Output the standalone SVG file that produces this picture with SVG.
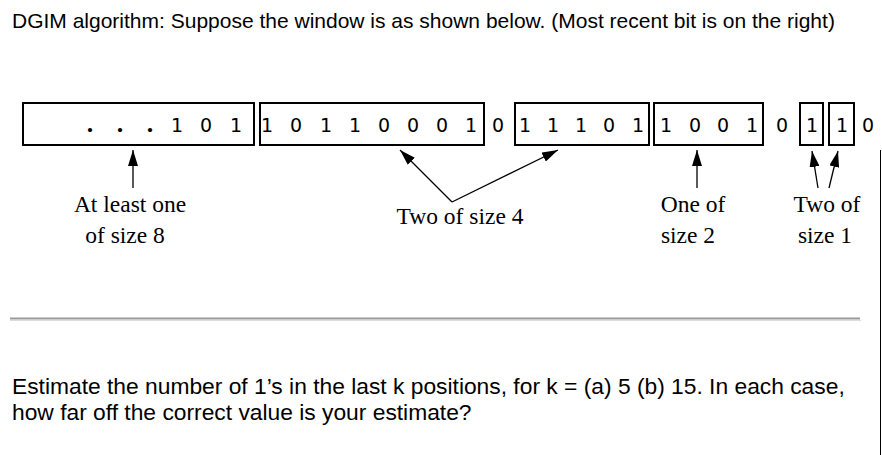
<svg xmlns="http://www.w3.org/2000/svg" width="882" height="455" viewBox="0 0 882 455">
<style>
.hdr{font-family:"Liberation Sans",Arial,sans-serif;fill:#000}
.bit{font-family:"DejaVu Sans","Liberation Sans",sans-serif;font-size:19px;fill:#000;text-anchor:middle}
.dot{font-family:"Liberation Serif","Times New Roman",serif;font-size:26px;font-weight:bold;fill:#000;text-anchor:middle}
.lbl{font-family:"Liberation Serif","Times New Roman",serif;font-size:23.5px;fill:#000;text-anchor:middle}
.box{fill:none;stroke:#000;stroke-width:2}
.conn{stroke:#000;stroke-width:1.3;fill:none}
</style>
<defs>
<marker id="ah2" viewBox="0 0 16 10" refX="16" refY="5" markerWidth="16" markerHeight="10" markerUnits="userSpaceOnUse" orient="auto">
<path d="M0,0 L16,5 L0,10 Z" fill="#000"/>
</marker>
</defs>
<rect x="0" y="0" width="882" height="455" fill="#fff"/>
<text class="hdr" x="12" y="28" font-size="21">DGIM algorithm: Suppose the window is as shown below. (Most recent bit is on the right)</text>

<g id="window">
<g id="bucket8">
<rect class="box" x="23" y="103" width="231" height="42"/>
<text class="dot" x="90" y="132">.</text>
<text class="dot" x="120" y="132">.</text>
<text class="dot" x="150" y="132">.</text>
<text class="bit" x="177" y="132">1</text>
<text class="bit" x="206" y="132">0</text>
<text class="bit" x="236" y="132">1</text>
</g>
<g id="bucket4a">
<rect class="box" x="260" y="103" width="224" height="42"/>
<text class="bit" x="267" y="132">1</text>
<text class="bit" x="296" y="132">0</text>
<text class="bit" x="326" y="132">1</text>
<text class="bit" x="355" y="132">1</text>
<text class="bit" x="384" y="132">0</text>
<text class="bit" x="413" y="132">0</text>
<text class="bit" x="442" y="132">0</text>
<text class="bit" x="471" y="132">1</text>
</g>
<text class="bit" x="498" y="132">0</text>
<g id="bucket4b">
<rect class="box" x="515" y="103" width="134" height="42"/>
<text class="bit" x="525" y="132">1</text>
<text class="bit" x="553" y="132">1</text>
<text class="bit" x="581" y="132">1</text>
<text class="bit" x="609" y="132">0</text>
<text class="bit" x="638" y="132">1</text>
</g>
<g id="bucket2">
<rect class="box" x="654" y="103" width="109" height="42"/>
<text class="bit" x="666" y="132">1</text>
<text class="bit" x="695" y="132">0</text>
<text class="bit" x="723" y="132">0</text>
<text class="bit" x="752" y="132">1</text>
</g>
<text class="bit" x="782" y="132">0</text>
<g id="bucket1a">
<rect class="box" x="800" y="103" width="23" height="42"/>
<text class="bit" x="812" y="132">1</text>
</g>
<g id="bucket1b">
<rect class="box" x="829" y="103" width="25" height="42"/>
<text class="bit" x="842" y="132">1</text>
</g>
<text class="bit" x="868" y="132">0</text>
</g>

<g id="connectors">
<line class="conn" x1="133" y1="188" x2="133" y2="150" marker-end="url(#ah2)"/>
<line class="conn" x1="452" y1="202" x2="400" y2="150" marker-end="url(#ah2)"/>
<line class="conn" x1="452" y1="202" x2="558" y2="150" marker-end="url(#ah2)"/>
<line class="conn" x1="697" y1="188" x2="697" y2="150" marker-end="url(#ah2)"/>
<line class="conn" x1="818" y1="188" x2="812" y2="151" marker-end="url(#ah2)"/>
<line class="conn" x1="829" y1="188" x2="838" y2="151" marker-end="url(#ah2)"/>
</g>

<g id="label8">
<text class="lbl" x="130" y="212">At least one</text>
<text class="lbl" x="125" y="243">of size 8</text>
</g>
<g id="label4">
<text class="lbl" x="460" y="224">Two of size 4</text>
</g>
<g id="label2">
<text class="lbl" x="693" y="212">One of</text>
<text class="lbl" x="688" y="243">size 2</text>
</g>
<g id="label1">
<text class="lbl" x="827" y="212">Two of</text>
<text class="lbl" x="825" y="243">size 1</text>
</g>

<line x1="10" y1="318.5" x2="860" y2="318.5" stroke="#9a9a9a" stroke-width="2"/>
<line x1="10" y1="320.5" x2="861" y2="320.5" stroke="#dcdcdc" stroke-width="1"/>
<line x1="880.5" y1="150" x2="880.5" y2="455" stroke="#000" stroke-width="1"/>

<text class="hdr" x="12" y="394" font-size="22.8">Estimate the number of 1’s in the last k positions, for k = (a) 5 (b) 15. In each case,</text>
<text class="hdr" x="12" y="420" font-size="22.8">how far off the correct value is your estimate?</text>
</svg>
